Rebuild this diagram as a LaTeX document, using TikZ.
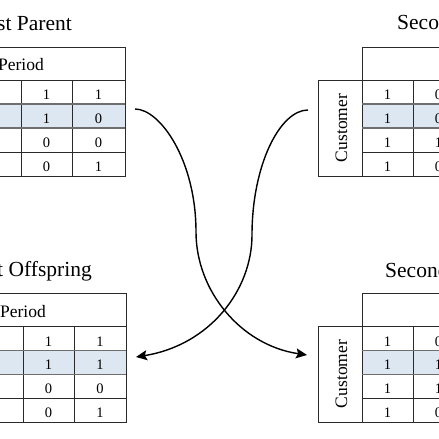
\documentclass[tikz,border=0pt]{standalone}
\usepackage{fontspec}
\setmainfont{Liberation Serif}
\usetikzlibrary{arrows.meta}
\definecolor{hl}{HTML}{DDE7F2}
\definecolor{gridc}{HTML}{2A2A2A}
\definecolor{hlc}{HTML}{6E6E6E}
\begin{document}
\begin{tikzpicture}[x=1pt,y=-1pt,
  gridline/.style={draw=gridc, line width=0.8pt},
  hlline/.style={draw=hlc, line width=1.4pt},
  titletext/.style={font=\fontsize{21.5}{25}\selectfont, inner sep=0pt},
  cell/.style={font=\fontsize{14.5}{17}\selectfont, inner sep=0pt, anchor=base},
  hdrtext/.style={font=\fontsize{17.5}{20}\selectfont, inner sep=0pt, anchor=base},
  cross/.style={line width=1.4pt, -{Stealth[length=11pt,width=10pt,inset=2pt]}}]
\useasboundingbox (0,0) rectangle (439,439);
\clip (0,0) rectangle (439,439);

% ---------- titles ----------
\node[titletext, anchor=base east] (t1) at (72,30) {First Parent};
\node[titletext, anchor=base west] (t2) at (397,29) {Second Parent};
\node[titletext, anchor=base east] (t3) at (92,276) {First Offspring};
\node[titletext, anchor=base west] (t4) at (385,277) {Second Offspring};

% ---------- top-left table ----------
\fill[hl] (-20,104) rectangle (125,128);
\draw[gridline] (-20,47) rectangle (125,176);
\draw[gridline] (-20,80) -- (125,80);
\draw[gridline] (-20,152) -- (125,152);
\draw[gridline] (21,80) -- (21,176);
\draw[gridline] (72,80) -- (72,176);
\draw[hlline] (-20,104) -- (125,104);
\draw[hlline] (-20,128) -- (125,128);
\node[hdrtext] (tlh) at (21,70.7) {Period};
\foreach \v [count=\i] in {1,1,0,0}
  \node[cell] (tlA\i) at (46.5,{99+24*(\i-1)}) {\v};
\foreach \v [count=\i] in {1,0,0,1}
  \node[cell] (tlB\i) at (98.5,{99+24*(\i-1)}) {\v};

% ---------- top-right table ----------
\fill[hl] (362,104) rectangle (460,128);
\draw[gridline] (362,47) rectangle (460,80);
\draw[gridline] (318,80) rectangle (460,176);
\draw[gridline] (362,80) -- (362,176);
\draw[gridline] (413,80) -- (413,176);
\draw[gridline] (362,152) -- (460,152);
\draw[hlline] (362,104) -- (460,104);
\draw[hlline] (362,128) -- (460,128);
\node[hdrtext, rotate=90] (trc) at (347,128) {Customer};
\foreach \v [count=\i] in {1,1,1,1}
  \node[cell] (trA\i) at (387.5,{99+24*(\i-1)}) {\v};
\foreach \v [count=\i] in {0,0,1,0}
  \node[cell] (trB\i) at (438.5,{99+24*(\i-1)}) {\v};

% ---------- bottom-left table ----------
\fill[hl] (-20,350.5) rectangle (126,374.5);
\draw[gridline] (-20,293.5) rectangle (126,422);
\draw[gridline] (-20,326.5) -- (126,326.5);
\draw[gridline] (-20,398) -- (126,398);
\draw[gridline] (23,326.5) -- (23,422);
\draw[gridline] (74,326.5) -- (74,422);
\draw[hlline] (-20,350.5) -- (126,350.5);
\draw[hlline] (-20,374.5) -- (126,374.5);
\node[hdrtext] (blh) at (23,317.5) {Period};
\foreach \v [count=\i] in {1,1,0,0}
  \node[cell] (blA\i) at (48.5,{346+23.9*(\i-1)}) {\v};
\foreach \v [count=\i] in {1,1,0,1}
  \node[cell] (blB\i) at (100,{346+23.9*(\i-1)}) {\v};

% ---------- bottom-right table ----------
\fill[hl] (362,350.5) rectangle (460,374.5);
\draw[gridline] (362,293.5) rectangle (460,326.5);
\draw[gridline] (318,326.5) rectangle (460,422);
\draw[gridline] (362,326.5) -- (362,422);
\draw[gridline] (413,326.5) -- (413,422);
\draw[gridline] (362,398) -- (460,398);
\draw[hlline] (362,350.5) -- (460,350.5);
\draw[hlline] (362,374.5) -- (460,374.5);
\node[hdrtext, rotate=90] (brc) at (347,374) {Customer};
\foreach \v [count=\i] in {1,1,1,1}
  \node[cell] (brA\i) at (387.5,{346+23.9*(\i-1)}) {\v};
\foreach \v [count=\i] in {0,1,1,0}
  \node[cell] (brB\i) at (438.5,{346+23.9*(\i-1)}) {\v};

% ---------- crossover arrows ----------
\coordinate (s1) at (135,109);
\coordinate (m1) at (196,232);
\coordinate (e1) at (307,355);
\coordinate (s2) at (308,110);
\coordinate (m2) at (252,235);
\coordinate (e2) at (136,357);
\draw[cross] (s1) .. controls (160,109) and (196,160) .. (m1)
  .. controls (196,290) and (240,345) .. (e1);
\draw[cross] (s2) .. controls (280,110) and (252,165) .. (m2)
  .. controls (252,290) and (210,345) .. (e2);
\end{tikzpicture}
\end{document}
